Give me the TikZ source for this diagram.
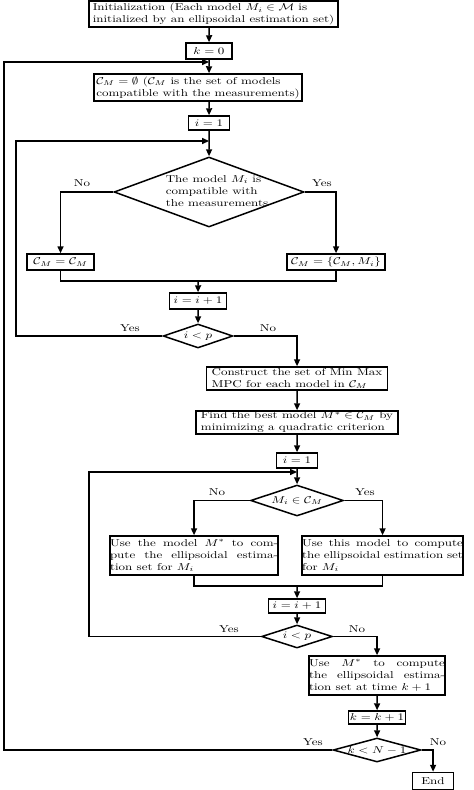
\documentclass[tikz,border=0pt]{standalone}
\usetikzlibrary{arrows.meta,shapes.geometric,calc}
\begin{document}
\begin{tikzpicture}[x=0.769231pt,y=-1pt,xscale=1.3,transform shape,
  line width=1.5pt,
  box/.style={draw,line width=1.5pt,inner sep=0pt,rectangle},
  jbox/.style={draw,line width=1.5pt,inner sep=0pt,rectangle,align=justify},
  dia/.style={draw,line width=1.5pt,diamond,inner sep=0pt},
  arr/.style={-{Triangle[length=7pt,width=6pt]},line width=1.5pt},
  lab/.style={inner sep=0pt}]
\useasboundingbox (0,0) rectangle (474,790);
% ---- nodes ----
\node[box,minimum width=191.5pt,minimum height=26pt,align=left] (init) at (213.5,14)
  {Initialization (Each model $M_i\in\mathcal{M}$ is\\initialized by an ellipsoidal estimation set)};
\node[box,minimum width=35.4pt,minimum height=16pt] (k0) at (209,51) {$k=0$};
\node[box,minimum width=160pt,minimum height=27pt,align=left] (cm0) at (198,87.5)
  {$\mathcal{C}_M=\emptyset$ ($\mathcal{C}_M$ is the set of models\\compatible with the measurements)};
\node[box,minimum width=31.5pt,minimum height=14pt] (i1) at (209,123) {$i=1$};
\node[dia,minimum width=146.2pt,minimum height=70pt] (d1) at (209,192) {};
\node[align=left,inner sep=0pt] (t1) at (217,191) {The model $M_i$ is\\compatible with\\the measurements};
\node[lab] (no1) at (82,183) {No};
\node[lab] (yes1) at (322,183) {Yes};
\node[box,minimum width=51.5pt,minimum height=16pt] (cmA) at (60.5,262) {$\mathcal{C}_M=\mathcal{C}_M$};
\node[box,minimum width=75.4pt,minimum height=16pt] (cmB) at (336,262) {$\mathcal{C}_M=\{\mathcal{C}_M,M_i\}$};
\coordinate (m1) at (198,281);
\node[box,minimum width=43.8pt,minimum height=16pt] (i2) at (198,301) {$i=i+1$};
\node[dia,minimum width=53.8pt,minimum height=24pt] (d2) at (198,336) {};
\node[inner sep=0pt] (t2) at (198,336) {$i<p$};
\node[lab] (yes2) at (130,328) {Yes};
\node[lab] (no2) at (268,328) {No};
\coordinate (L1) at (16,141);
\coordinate (j1) at (209,141);
\node[box,minimum width=139.2pt,minimum height=23pt,align=left] (con) at (297,378.5)
  {Construct the set of Min Max\\MPC for each model in $\mathcal{C}_M$};
\node[box,minimum width=155.4pt,minimum height=23pt,align=left] (find) at (297,422.5)
  {Find the best model $M^*\in\mathcal{C}_M$ by\\minimizing a quadratic criterion};
\node[box,minimum width=31.5pt,minimum height=15pt] (i3) at (297,460.5) {$i=1$};
\coordinate (L3) at (89,472);
\coordinate (j3) at (297,472);
\node[dia,minimum width=71.5pt,minimum height=31pt] (d3) at (297,500.5) {};
\node[inner sep=0pt] (t3) at (297,500.5) {$M_i\in\mathcal{C}_M$};
\node[lab] (no3) at (217,492) {No};
\node[lab] (yes3) at (365,492) {Yes};
\node[jbox,text width=129.2pt,minimum height=39pt] (uA) at (194,555.5)
  {Use the model $M^*$ to com-\linebreak pute the ellipsoidal estima-\linebreak tion set for $M_i$};
\node[jbox,text width=123.8pt,minimum height=39pt] (uB) at (382.5,555.5)
  {Use this model to compute\linebreak the ellipsoidal estimation set\linebreak for $M_i$};
\coordinate (m2) at (297,586);
\node[box,minimum width=43.8pt,minimum height=14pt] (i4) at (297,606) {$i=i+1$};
\node[dia,minimum width=54.6pt,minimum height=23pt] (d4) at (297,636.5) {};
\node[inner sep=0pt] (t4) at (297,636.5) {$i<p$};
\node[lab] (yes4) at (229,629) {Yes};
\node[lab] (no4) at (357,629) {No};
\node[jbox,text width=104.6pt,minimum height=39pt] (use) at (377,675.5)
  {Use $M^*$ to compute\linebreak the ellipsoidal estima-\linebreak tion set at time $k+1$};
\node[box,minimum width=43.8pt,minimum height=13pt] (k1) at (377,717.5) {$k=k+1$};
\node[dia,minimum width=67.7pt,minimum height=24pt] (d5) at (377,750) {};
\node[inner sep=0pt] (t5) at (377,750) {$k<N-1$};
\node[lab] (yes5) at (313,742) {Yes};
\node[lab] (no5) at (438,742) {No};
\coordinate (L0) at (4,62);
\coordinate (j0) at (209,62);
\node[box,minimum width=31.5pt,minimum height=17pt] (End) at (433,781) {End};
% ---- connectors ----
\draw[arr] (k0 |- init.south) -- (k0);
\draw[arr] (k0) -- (k0 |- cm0.north);
\draw[arr] (i1 |- cm0.south) -- (i1);
\draw[arr] (i1) -- (d1);
\draw[arr] (d1.west) -| (cmA.north);
\draw[arr] (d1.east) -| (cmB.north);
\draw (cmA.south) |- (m1) -| (cmB.south);
\draw[arr] (m1) -- (i2);
\draw[arr] (i2) -- (d2);
\draw[arr] (d2.west) -| (L1) -- (j1);
\draw[arr] (d2.east) -| (con.north);
\draw[arr] (con) -- (find);
\draw[arr] (find) -- (i3);
\draw[arr] (i3) -- (d3);
\draw[arr] (d3.west) -| (uA.north);
\draw[arr] (d3.east) -| (uB.north);
\draw (uA.south) |- (m2) -| (uB.south);
\draw[arr] (m2) -- (i4);
\draw[arr] (i4) -- (d4);
\draw[arr] (d4.west) -| (L3) -- (j3);
\draw[arr] (d4.east) -| (use.north);
\draw[arr] (use) -- (k1);
\draw[arr] (k1) -- (d5);
\draw[arr] (d5.west) -| (L0) -- (j0);
\draw[arr] (d5.east) -| (End.north);
\end{tikzpicture}
\end{document}
